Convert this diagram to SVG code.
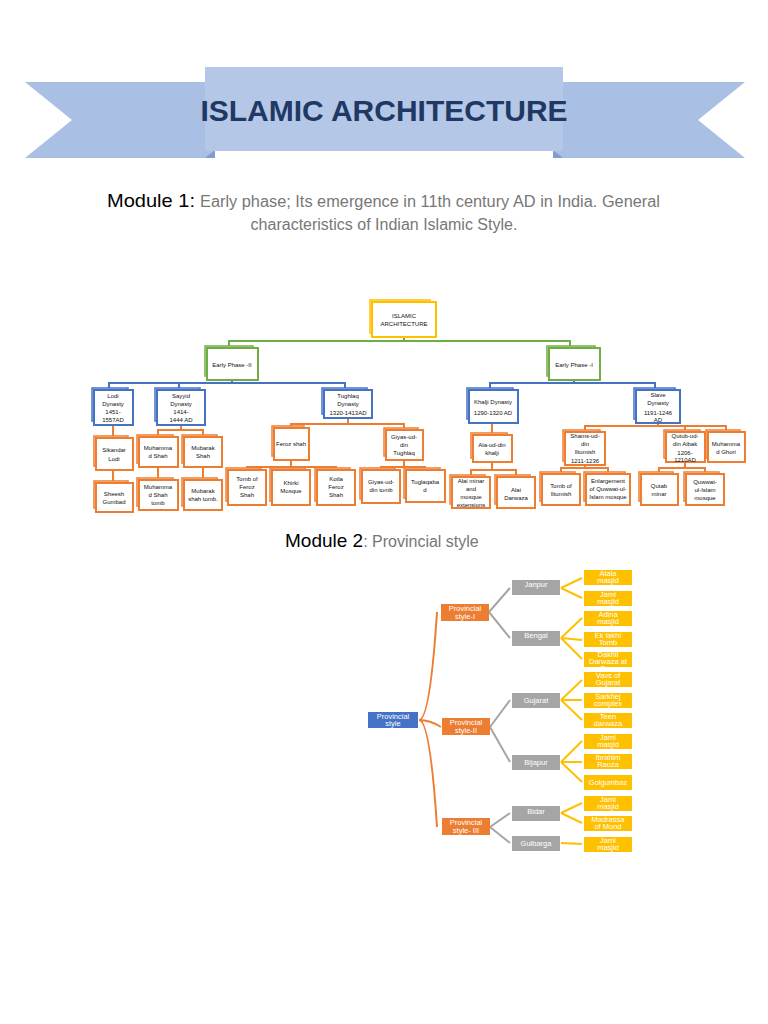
<svg xmlns="http://www.w3.org/2000/svg" width="768" height="1024" viewBox="0 0 768 1024">
<style>
text{font-family:"Liberation Sans",Arial,sans-serif}
.n{font-size:6px;fill:#111;text-anchor:middle}
.bk{stroke-width:1.5;fill:#fff}
.fr{fill:#fff;stroke-width:2}
.o{stroke:#ed7d31}.b{stroke:#4472c4}.g{stroke:#70ad47}.y{stroke:#ffc000}
.c{fill:none;stroke-width:2}
.w{font-size:7.5px;fill:#fff;text-anchor:middle}
</style>
<rect width="768" height="1024" fill="#fff"/>
<g id="banner">
<polygon points="25,82 215,82 215,158 25,158 72,120" fill="#a9bfe3"/>
<polygon points="745,82 555,82 555,158 745,158 698,120" fill="#a9bfe3"/>
<polygon points="205,158 215,150 215,158" fill="#7f9ccc"/>
<polygon points="563,158 553,150 553,158" fill="#7f9ccc"/>
<rect x="205" y="67" width="358" height="84" fill="#b4c7e7"/>
<text x="384" y="121" font-size="30" font-weight="bold" fill="#1f3864" text-anchor="middle">ISLAMIC ARCHITECTURE</text>
</g>
<text x="107" y="207" font-size="19" fill="#000" textLength="88" lengthAdjust="spacingAndGlyphs">Module 1:</text>
<text x="200" y="207" font-size="16" fill="#777" textLength="460" lengthAdjust="spacingAndGlyphs">Early phase; Its emergence in 11th century AD in India. General</text>
<text x="384" y="230" font-size="16" fill="#777" text-anchor="middle">characteristics of Indian Islamic Style.</text>
<g id="connectors">
<path class="c g" d="M404,337V341M229,348V341H570V348"/>
<path class="c b" d="M232,380V383M109,390V383H345V390M179,390V383M574,380V383M490,390V383H655V390"/>
<path class="c o" d="M113,425V438M113,470V483M181,425V430M158,437V430H203V437M158,467V480M203,467V480M348,418V424M291,428V424H404V430M291,460V467M247,470V467H336V470M291,467V470M404,460V467M381,470V467H425V470M492,423V435M492,462V470M471,477V470H516V477M658,423V426M585,432V426H726V432M685,426V432M585,465V468M561,474V468H608V474M685,462V468M659,474V468H705V474"/>
<path class="c" stroke="#ed7d31" d="M419,720Q430,720 437,612M419,720Q430,720 441,727M419,720Q430,720 437,827"/>
<path class="c" stroke="#a5a5a5" d="M489,612L510,588M489,612L510,638M490,727L510,700M490,727L510,762M490,827L510,813M490,827L510,843"/>
<path class="c" stroke="#ffc000" d="M561,588L582,578M561,588L582,598M561,638L582,618M561,638L582,640M561,638L582,659M561,700L582,680M561,700L582,700M561,700L582,720M561,762L582,741M561,762L582,762M561,762L582,782M561,813L582,803M561,813L582,823M561,843L582,844"/>
</g>
<g id="root" transform="translate(372,302)"><rect class="bk y" x="-2" y="-2" width="60" height="33"/><rect class="fr y" width="64" height="35"/><text class="n" x="32" y="16">ISLAMIC</text><text class="n" x="32" y="24">ARCHITECTURE</text></g>
<g id="ep2" transform="translate(207,348)"><rect class="bk g" x="-2" y="-2" width="48" height="30"/><rect class="fr g" width="51" height="32"/><text class="n" x="25" y="19">Early Phase -II</text></g>
<g id="ep1" transform="translate(549,348)"><rect class="bk g" x="-2" y="-2" width="48" height="30"/><rect class="fr g" width="51" height="32"/><text class="n" x="25" y="19">Early Phase -I</text></g>
<g id="lodi" transform="translate(94,390)"><rect class="bk b" x="-2" y="-2" width="36" height="33"/><rect class="fr b" width="39" height="35"/><text class="n" x="19" y="8">Lodi</text><text class="n" x="19" y="16">Dynasty</text><text class="n" x="19" y="24">1451-</text><text class="n" x="19" y="32">1557AD</text></g>
<g id="sayyid" transform="translate(157,390)"><rect class="bk b" x="-2" y="-2" width="45" height="33"/><rect class="fr b" width="48" height="35"/><text class="n" x="24" y="8">Sayyid</text><text class="n" x="24" y="16">Dynasty</text><text class="n" x="24" y="24">1414-</text><text class="n" x="24" y="32">1444 AD</text></g>
<g id="tughlaq" transform="translate(324,390)"><rect class="bk b" x="-2" y="-2" width="45" height="26"/><rect class="fr b" width="48" height="28"/><text class="n" x="24" y="8">Tughlaq</text><text class="n" x="24" y="16">Dynasty</text><text class="n" x="24" y="25">1320-1413AD</text></g>
<g id="khalji" transform="translate(469,390)"><rect class="bk b" x="-2" y="-2" width="46" height="31"/><rect class="fr b" width="49" height="33"/><text class="n" x="24" y="14">Khalji Dynasty</text><text class="n" x="24" y="25">1290-1320 AD</text></g>
<g id="slave" transform="translate(636,390)"><rect class="bk b" x="-2" y="-2" width="41" height="31"/><rect class="fr b" width="44" height="33"/><text class="n" x="22" y="7">Slave</text><text class="n" x="22" y="15">Dynasty</text><text class="n" x="22" y="25">1191-1246</text><text class="n" x="22" y="32">AD</text></g>
<g id="sikandar" transform="translate(96,438)"><rect class="bk o" x="-2" y="-2" width="34" height="30"/><rect class="fr o" width="37" height="32"/><text class="n" x="18" y="14">Sikandar</text><text class="n" x="18" y="23">Lodi</text></g>
<g id="sheesh" transform="translate(96,483)"><rect class="bk o" x="-2" y="-2" width="34" height="27"/><rect class="fr o" width="37" height="29"/><text class="n" x="18" y="13">Sheesh</text><text class="n" x="18" y="21">Gumbad</text></g>
<g id="mshah" transform="translate(139,437)"><rect class="bk o" x="-2" y="-2" width="36" height="28"/><rect class="fr o" width="39" height="30"/><text class="n" x="19" y="13">Muhamma</text><text class="n" x="19" y="21">d Shah</text></g>
<g id="mubshah" transform="translate(184,437)"><rect class="bk o" x="-2" y="-2" width="35" height="28"/><rect class="fr o" width="38" height="30"/><text class="n" x="19" y="13">Mubarak</text><text class="n" x="19" y="21">Shah</text></g>
<g id="mtomb" transform="translate(139,480)"><rect class="bk o" x="-2" y="-2" width="36" height="28"/><rect class="fr o" width="39" height="30"/><text class="n" x="19" y="9">Muhamma</text><text class="n" x="19" y="17">d Shah</text><text class="n" x="19" y="25">tomb</text></g>
<g id="mubtomb" transform="translate(184,480)"><rect class="bk o" x="-2" y="-2" width="35" height="28"/><rect class="fr o" width="38" height="30"/><text class="n" x="19" y="13">Mubarak</text><text class="n" x="19" y="21">shah tomb.</text></g>
<g id="feroz" transform="translate(274,428)"><rect class="bk o" x="-2" y="-2" width="32" height="30"/><rect class="fr o" width="35" height="32"/><text class="n" x="17" y="18">Feroz shah</text></g>
<g id="giyas" transform="translate(386,430)"><rect class="bk o" x="-2" y="-2" width="34" height="28"/><rect class="fr o" width="37" height="30"/><text class="n" x="18" y="9">Giyas-ud-</text><text class="n" x="18" y="17">din</text><text class="n" x="18" y="25">Tughlaq</text></g>
<g id="tferoz" transform="translate(228,470)"><rect class="bk o" x="-2" y="-2" width="35" height="33"/><rect class="fr o" width="38" height="35"/><text class="n" x="19" y="11">Tomb of</text><text class="n" x="19" y="19">Feroz</text><text class="n" x="19" y="27">Shah</text></g>
<g id="khirki" transform="translate(272,470)"><rect class="bk o" x="-2" y="-2" width="35" height="33"/><rect class="fr o" width="38" height="35"/><text class="n" x="19" y="15">Khirki</text><text class="n" x="19" y="23">Mosque</text></g>
<g id="kotla" transform="translate(317,470)"><rect class="bk o" x="-2" y="-2" width="35" height="33"/><rect class="fr o" width="38" height="35"/><text class="n" x="19" y="11">Kotla</text><text class="n" x="19" y="19">Feroz</text><text class="n" x="19" y="27">Shah</text></g>
<g id="gtomb" transform="translate(362,470)"><rect class="bk o" x="-2" y="-2" width="35" height="31"/><rect class="fr o" width="38" height="33"/><text class="n" x="19" y="14">Giyas-ud-</text><text class="n" x="19" y="22">din tomb</text></g>
<g id="tuglaq" transform="translate(406,470)"><rect class="bk o" x="-2" y="-2" width="36" height="30"/><rect class="fr o" width="39" height="32"/><text class="n" x="19" y="14">Tuglaqaba</text><text class="n" x="19" y="22">d</text></g>
<g id="alaud" transform="translate(473,435)"><rect class="bk o" x="-2" y="-2" width="36" height="25"/><rect class="fr o" width="39" height="27"/><text class="n" x="19" y="12">Ala-ud-din</text><text class="n" x="19" y="20">khalji</text></g>
<g id="alaimin" transform="translate(452,477)"><rect class="bk o" x="-2" y="-2" width="35" height="29"/><rect class="fr o" width="38" height="31"/><text class="n" x="19" y="6">Alai minar</text><text class="n" x="19" y="14">and</text><text class="n" x="19" y="22">mosque</text><text class="n" x="19" y="30">extensions</text></g>
<g id="alaidar" transform="translate(497,477)"><rect class="bk o" x="-2" y="-2" width="35" height="29"/><rect class="fr o" width="38" height="31"/><text class="n" x="19" y="15">Alai</text><text class="n" x="19" y="23">Darwaza</text></g>
<g id="shams" transform="translate(565,432)"><rect class="bk o" x="-2" y="-2" width="37" height="31"/><rect class="fr o" width="40" height="33"/><text class="n" x="20" y="6">Shams-ud-</text><text class="n" x="20" y="14">din</text><text class="n" x="20" y="22">Iltumish</text><text class="n" x="20" y="31">1211-1236</text></g>
<g id="qutub" transform="translate(666,432)"><rect class="bk o" x="-2" y="-2" width="36" height="28"/><rect class="fr o" width="39" height="30"/><text class="n" x="19" y="6">Qutub-ud-</text><text class="n" x="19" y="14">din Aibak</text><text class="n" x="19" y="23">1206-</text><text class="n" x="19" y="30">1210AD</text></g>
<g id="ghori" transform="translate(708,432)"><rect class="bk o" x="-2" y="-2" width="34" height="28"/><rect class="fr o" width="37" height="30"/><text class="n" x="18" y="14">Muhamma</text><text class="n" x="18" y="22">d Ghori</text></g>
<g id="tiltumish" transform="translate(542,474)"><rect class="bk o" x="-2" y="-2" width="35" height="29"/><rect class="fr o" width="38" height="31"/><text class="n" x="19" y="14">Tomb of</text><text class="n" x="19" y="22">Iltumish</text></g>
<g id="enlarge" transform="translate(586,474)"><rect class="bk o" x="-2" y="-2" width="41" height="29"/><rect class="fr o" width="44" height="31"/><text class="n" x="22" y="9">Enlargement</text><text class="n" x="22" y="17">of Quwwat-ul-</text><text class="n" x="22" y="25">Islam mosque</text></g>
<g id="qminar" transform="translate(641,474)"><rect class="bk o" x="-2" y="-2" width="34" height="29"/><rect class="fr o" width="37" height="31"/><text class="n" x="18" y="14">Qutab</text><text class="n" x="18" y="22">minar</text></g>
<g id="quwwat" transform="translate(686,474)"><rect class="bk o" x="-2" y="-2" width="35" height="29"/><rect class="fr o" width="38" height="31"/><text class="n" x="19" y="10">Quwwat-</text><text class="n" x="19" y="18">ul-Islam</text><text class="n" x="19" y="26">mosque</text></g>
<text x="285" y="547" font-size="19" fill="#000">Module 2<tspan font-size="16" fill="#777">: Provincial style</tspan></text>
<g id="p0"><rect x="368" y="712" width="50" height="16" fill="#4472c4"/><text class="w" x="393" y="719">Provincial</text><text class="w" x="393" y="726">style</text></g>
<g id="p1"><rect x="441" y="604" width="48" height="17" fill="#ed7d31"/><text class="w" x="465" y="611">Provincial</text><text class="w" x="465" y="619">style-I</text></g>
<g id="p2"><rect x="442" y="718" width="48" height="17" fill="#ed7d31"/><text class="w" x="466" y="725">Provincial</text><text class="w" x="466" y="733">style-II</text></g>
<g id="p3"><rect x="442" y="818" width="48" height="17" fill="#ed7d31"/><text class="w" x="466" y="825">Provincial</text><text class="w" x="466" y="833">style- III</text></g>
<g id="janpur"><rect x="512" y="580" width="48" height="15" fill="#a5a5a5"/><text class="w" x="536" y="587">Janpur</text></g>
<g id="bengal"><rect x="512" y="631" width="48" height="15" fill="#a5a5a5"/><text class="w" x="536" y="638">Bengal</text></g>
<g id="gujarat"><rect x="512" y="693" width="48" height="15" fill="#a5a5a5"/><text class="w" x="536" y="703">Gujarat</text></g>
<g id="bijapur"><rect x="512" y="755" width="48" height="15" fill="#a5a5a5"/><text class="w" x="536" y="765">Bijapur</text></g>
<g id="bidar"><rect x="512" y="806" width="48" height="15" fill="#a5a5a5"/><text class="w" x="536" y="814">Bidar</text></g>
<g id="gulbarga"><rect x="512" y="836" width="48" height="15" fill="#a5a5a5"/><text class="w" x="536" y="846">Gulbarga</text></g>
<g id="l1"><rect x="584" y="570" width="48" height="15" fill="#ffc000"/><text class="w" x="608" y="576">Atala</text><text class="w" x="608" y="583">masjid</text></g>
<g id="l2"><rect x="584" y="591" width="48" height="15" fill="#ffc000"/><text class="w" x="608" y="597">Jami</text><text class="w" x="608" y="604">masjid</text></g>
<g id="l3"><rect x="584" y="611" width="48" height="15" fill="#ffc000"/><text class="w" x="608" y="617">Adina</text><text class="w" x="608" y="624">masjid</text></g>
<g id="l4"><rect x="584" y="632" width="48" height="15" fill="#ffc000"/><text class="w" x="608" y="638">Ek lakhi</text><text class="w" x="608" y="645">Tomb</text></g>
<g id="l5"><rect x="584" y="652" width="48" height="15" fill="#ffc000"/><text class="w" x="608" y="657">Dakhil</text><text class="w" x="608" y="664">Darwaza at</text><text class="w" x="608" y="671">Gaur</text></g>
<g id="l6"><rect x="584" y="672" width="48" height="15" fill="#ffc000"/><text class="w" x="608" y="678">Vavs of</text><text class="w" x="608" y="685">Gujarat</text></g>
<g id="l7"><rect x="584" y="693" width="48" height="15" fill="#ffc000"/><text class="w" x="608" y="699">Sarkhej</text><text class="w" x="608" y="706">complex</text></g>
<g id="l8"><rect x="584" y="713" width="48" height="15" fill="#ffc000"/><text class="w" x="608" y="719">Teen</text><text class="w" x="608" y="726">darwaza</text></g>
<g id="l9"><rect x="584" y="734" width="48" height="15" fill="#ffc000"/><text class="w" x="608" y="740">Jami</text><text class="w" x="608" y="747">masjid</text></g>
<g id="l10"><rect x="584" y="754" width="48" height="15" fill="#ffc000"/><text class="w" x="608" y="760">Ibrahim</text><text class="w" x="608" y="767">Rauza</text></g>
<g id="l11"><rect x="584" y="775" width="48" height="15" fill="#ffc000"/><text class="w" x="608" y="785">Golgumbaz</text></g>
<g id="l12"><rect x="584" y="796" width="48" height="15" fill="#ffc000"/><text class="w" x="608" y="802">Jami</text><text class="w" x="608" y="809">masjid</text></g>
<g id="l13"><rect x="584" y="816" width="48" height="15" fill="#ffc000"/><text class="w" x="608" y="822">Madrassa</text><text class="w" x="608" y="829">of Mond</text></g>
<g id="l14"><rect x="584" y="837" width="48" height="15" fill="#ffc000"/><text class="w" x="608" y="843">Jami</text><text class="w" x="608" y="850">masjid</text></g>
</svg>
